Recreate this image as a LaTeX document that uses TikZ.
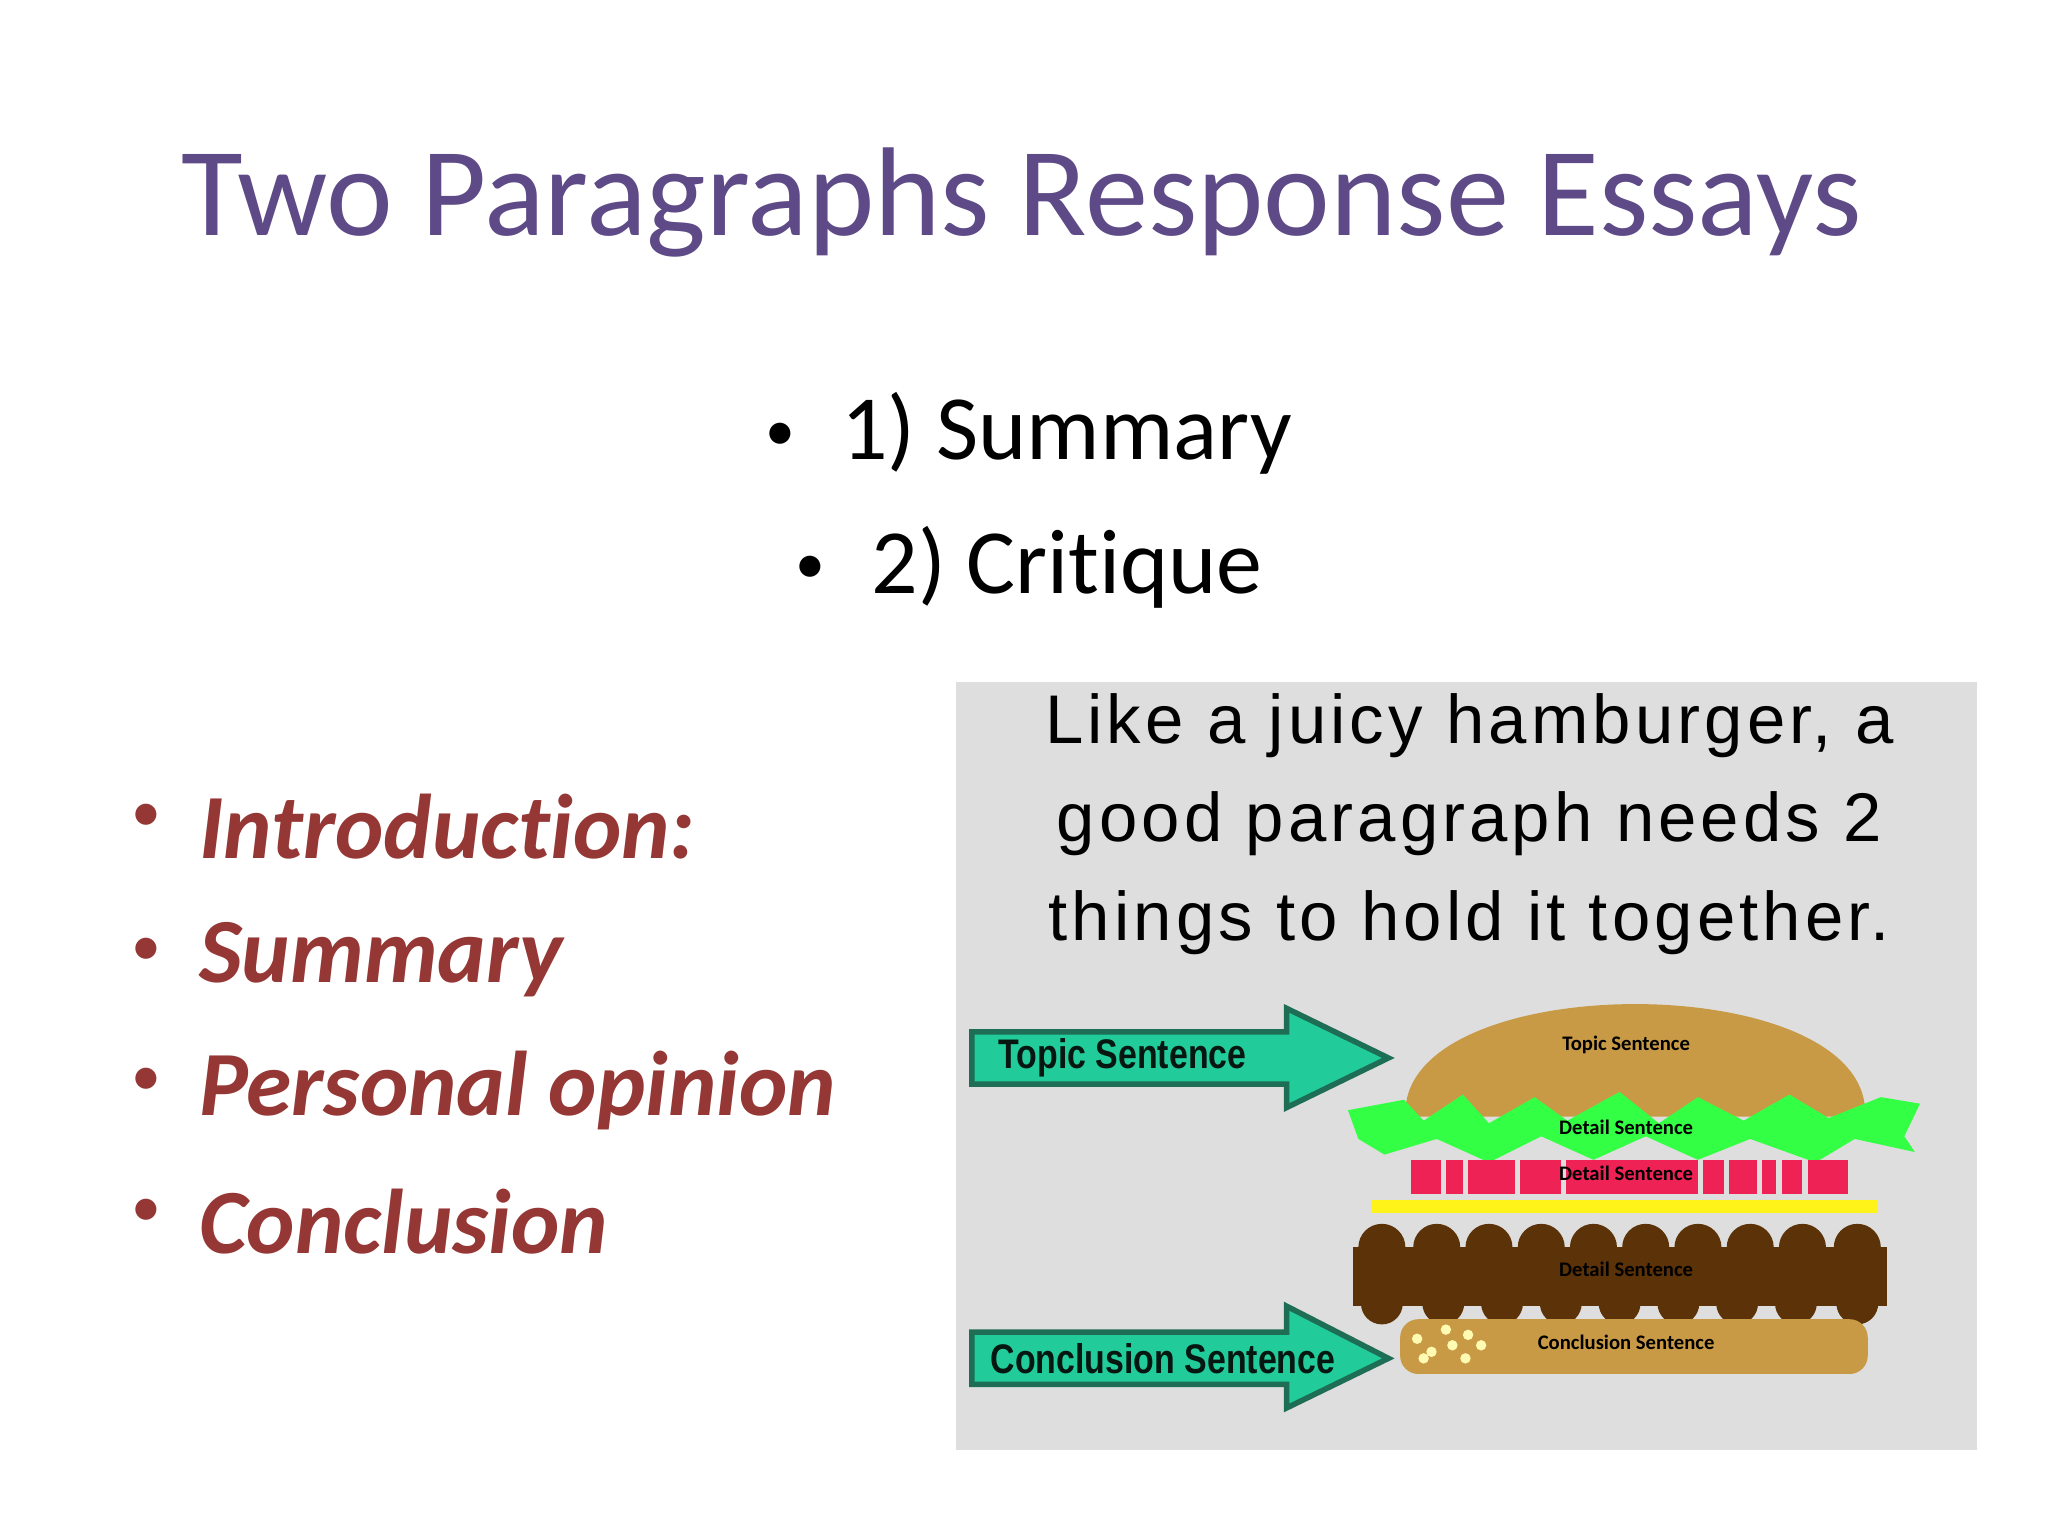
\documentclass[tikz,border=0pt]{standalone}
\usepackage{fontspec}
\setmainfont{Carlito}[Ligatures={NoCommon}]
\newfontfamily\arialf[LetterSpace=6]{Liberation Sans}
\newfontfamily\narrowf[FakeStretch=0.82]{Liberation Sans}
\definecolor{ttl}{HTML}{5E4A86}
\definecolor{dred}{HTML}{953735}
\definecolor{boxg}{HTML}{DEDEDE}
\definecolor{arrf}{HTML}{22CC9A}
\definecolor{arrd}{HTML}{1E6E55}
\definecolor{bun}{HTML}{C99A45}
\definecolor{lett}{HTML}{33FF44}
\definecolor{tom}{HTML}{EE2255}
\definecolor{patty}{HTML}{5C3208}
\newcommand{\bt}{\raisebox{0.1em}{\fontsize{13}{13}\selectfont\textbullet}}
\tikzset{
  arr/.style={fill=arrf,draw=arrd,line width=1.2pt},
  tiny/.style={font=\bfseries\fontsize{4.5}{5}\selectfont,text=black},
  lbl/.style={font=\bfseries\fontsize{20}{24}\selectfont\itshape,text=dred,anchor=west},
  bul/.style={font=\fontsize{20}{24}\selectfont,anchor=west},
  alab/.style={font=\narrowf\bfseries\fontsize{9}{9}\selectfont,text=black!80!arrd,anchor=west},
}
\begin{document}
\begin{tikzpicture}[x=0.01cm,y=-0.01cm]
\useasboundingbox (0,0) rectangle (1568,1176);
\fill[white] (0,0) rectangle (1568,1176);
\node[text=ttl,font=\fontsize{27.5}{32}\selectfont] (title) at (782,155) {Two Paragraphs Response Essays};
\node[bul] (b1) at (574,332) {\bt\hspace{0.35cm}1) Summary};
\node[bul] (b2) at (597,434) {\bt\hspace{0.35cm}2) Critique};
\foreach \t/\y/\n in {Introduction:/633/l1,Summary/735/l2,Personal opinion/835/l3,Conclusion/935/l4}{
  \node[anchor=west,text=dred,font=\fontsize{20}{24}\selectfont] at (88,\y-3) {\bt};
  \node[lbl] (\n) at (140,\y) {\t};
}
% picture
\fill[boxg] (732,522) rectangle (1514,1110);
\node[font=\arialf\fontsize{15}{22}\selectfont,align=center] (cap) at (1125,631)
  {Like a juicy hamburger, a\\[-0.02cm]good paragraph needs 2\\[-0.02cm]things to hold it together.};
% arrows
\draw[arr] (744,790)--(985,790)--(985,772)--(1063,810)--(985,848)--(985,830)--(744,830)--cycle;
\node[alab] (ts) at (752,810) {Topic Sentence};
\draw[arr] (744,1020)--(985,1020)--(985,1000)--(1063,1040)--(985,1078)--(985,1060)--(744,1060)--cycle;
\node[alab] (cs) at (746,1040) {Conclusion Sentence};
% top bun
\fill[bun] (1076,855) .. controls (1070,740) and (1434,740) .. (1428,855) -- cycle;
% lettuce
\fill[lett] (1032,850) -- (1075,842) -- (1090,858) -- (1120,838) -- (1140,860) -- (1175,840) -- (1200,858) -- (1240,836) -- (1270,860) -- (1300,840) -- (1335,858) -- (1370,838) -- (1400,856) -- (1440,840) -- (1470,845) -- (1458,870) -- (1466,882) -- (1420,872) -- (1390,890) -- (1340,872) -- (1300,888) -- (1260,870) -- (1220,888) -- (1180,870) -- (1140,890) -- (1100,872) -- (1060,884) -- (1040,872) -- cycle;
% tomato
\fill[tom] (1080,888) rectangle (1415,914);
\foreach \x in {1103,1120,1160,1195,1300,1320,1345,1360,1380}{\fill[boxg] (\x,888) rectangle (\x+4,914);}
% cheese
\fill[yellow!90!white] (1050,919) rectangle (1437,929);
% patty
\fill[patty] (1036,955) rectangle (1445,1000);
\foreach \x in {1058,1100,1140,1180,1220,1260,1300,1340,1380,1422}{\fill[patty] (\x,955) circle (18);}
\foreach \x in {1058,1105,1150,1195,1240,1285,1330,1375,1422}{\fill[patty] (\x,998) circle (16);}
% bottom bun
\fill[bun] (1086,1010) rectangle (1416,1052);
\fill[bun] (1072,1024) rectangle (1430,1038);
\foreach \p in {(1086,1024),(1416,1024),(1086,1038),(1416,1038)}{\fill[bun] \p circle (14);}
\foreach \p in {(1085,1025),(1096,1035),(1107,1018),(1112,1030),(1124,1022),(1122,1040),(1134,1030),(1090,1040)}{\fill[yellow!30!white] \p circle (4);}
\node[tiny] (t1) at (1245,800) {Topic Sentence};
\node[tiny] (t2) at (1245,863) {Detail Sentence};
\node[tiny] (t3) at (1245,898) {Detail Sentence};
\node[tiny] (t4) at (1245,972) {Detail Sentence};
\node[tiny] (t5) at (1245,1028) {Conclusion Sentence};
\end{tikzpicture}
\end{document}
